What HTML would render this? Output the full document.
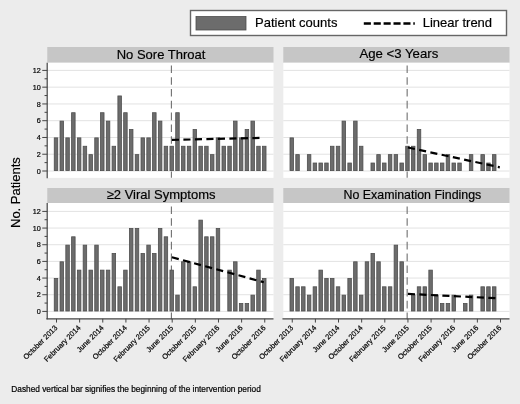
<!DOCTYPE html>
<html><head><meta charset="utf-8"><title>Chart</title>
<style>html,body{margin:0;padding:0;background:#ececec;}svg{display:block}</style></head>
<body>
<svg width="520" height="404" viewBox="0 0 520 404" font-family="'Liberation Sans', sans-serif" fill="#000">
<rect width="520" height="404" fill="#ececec"/>
<rect x="190.5" y="10.5" width="316" height="25" fill="#fff" stroke="#666" stroke-width="1.4"/>
<rect x="196" y="16.5" width="50" height="13.5" fill="#6c6c6c" stroke="#4e4e4e" stroke-width="0.8"/>
<text stroke="#000" stroke-width="0.18" x="255" y="27.3" font-size="13">Patient counts</text>
<line x1="363.8" y1="23.5" x2="414.8" y2="23.5" stroke="#000" stroke-width="2.3" stroke-dasharray="7.1 2.8"/>
<text stroke="#000" stroke-width="0.18" x="422.7" y="27.3" font-size="13">Linear trend</text>
<rect x="47.25" y="47" width="226.25" height="15.75" fill="#c6c6c6"/>
<rect x="47.25" y="62.75" width="226.25" height="115.1" fill="#fff"/>
<text stroke="#000" stroke-width="0.18" x="161.0" y="59.3" font-size="13" text-anchor="middle">No Sore Throat</text>
<line x1="47.25" x2="273.5" y1="171" y2="171" stroke="#e2e2e2" stroke-width="1"/>
<line x1="47.25" x2="273.5" y1="154.23" y2="154.23" stroke="#e2e2e2" stroke-width="1"/>
<line x1="47.25" x2="273.5" y1="137.47" y2="137.47" stroke="#e2e2e2" stroke-width="1"/>
<line x1="47.25" x2="273.5" y1="120.7" y2="120.7" stroke="#e2e2e2" stroke-width="1"/>
<line x1="47.25" x2="273.5" y1="103.94" y2="103.94" stroke="#e2e2e2" stroke-width="1"/>
<line x1="47.25" x2="273.5" y1="87.17" y2="87.17" stroke="#e2e2e2" stroke-width="1"/>
<line x1="47.25" x2="273.5" y1="70.4" y2="70.4" stroke="#e2e2e2" stroke-width="1"/>
<line x1="171.4" x2="171.4" y1="65.4" y2="177.85" stroke="#707070" stroke-width="1.1" stroke-dasharray="7.6 4.2"/>
<rect x="54.25" y="137.87" width="3.5" height="32.73" fill="#6c6c6c" stroke="#4e4e4e" stroke-width="0.8"/>
<rect x="60.03" y="121.1" width="3.5" height="49.5" fill="#6c6c6c" stroke="#4e4e4e" stroke-width="0.8"/>
<rect x="65.82" y="137.87" width="3.5" height="32.73" fill="#6c6c6c" stroke="#4e4e4e" stroke-width="0.8"/>
<rect x="71.61" y="112.72" width="3.5" height="57.88" fill="#6c6c6c" stroke="#4e4e4e" stroke-width="0.8"/>
<rect x="77.39" y="137.87" width="3.5" height="32.73" fill="#6c6c6c" stroke="#4e4e4e" stroke-width="0.8"/>
<rect x="83.17" y="146.25" width="3.5" height="24.35" fill="#6c6c6c" stroke="#4e4e4e" stroke-width="0.8"/>
<rect x="88.96" y="154.63" width="3.5" height="15.97" fill="#6c6c6c" stroke="#4e4e4e" stroke-width="0.8"/>
<rect x="94.75" y="137.87" width="3.5" height="32.73" fill="#6c6c6c" stroke="#4e4e4e" stroke-width="0.8"/>
<rect x="100.53" y="112.72" width="3.5" height="57.88" fill="#6c6c6c" stroke="#4e4e4e" stroke-width="0.8"/>
<rect x="106.31" y="121.1" width="3.5" height="49.5" fill="#6c6c6c" stroke="#4e4e4e" stroke-width="0.8"/>
<rect x="112.1" y="146.25" width="3.5" height="24.35" fill="#6c6c6c" stroke="#4e4e4e" stroke-width="0.8"/>
<rect x="117.89" y="95.95" width="3.5" height="74.65" fill="#6c6c6c" stroke="#4e4e4e" stroke-width="0.8"/>
<rect x="123.67" y="112.72" width="3.5" height="57.88" fill="#6c6c6c" stroke="#4e4e4e" stroke-width="0.8"/>
<rect x="129.45" y="129.49" width="3.5" height="41.11" fill="#6c6c6c" stroke="#4e4e4e" stroke-width="0.8"/>
<rect x="135.24" y="154.63" width="3.5" height="15.97" fill="#6c6c6c" stroke="#4e4e4e" stroke-width="0.8"/>
<rect x="141.02" y="137.87" width="3.5" height="32.73" fill="#6c6c6c" stroke="#4e4e4e" stroke-width="0.8"/>
<rect x="146.81" y="137.87" width="3.5" height="32.73" fill="#6c6c6c" stroke="#4e4e4e" stroke-width="0.8"/>
<rect x="152.59" y="112.72" width="3.5" height="57.88" fill="#6c6c6c" stroke="#4e4e4e" stroke-width="0.8"/>
<rect x="158.38" y="121.1" width="3.5" height="49.5" fill="#6c6c6c" stroke="#4e4e4e" stroke-width="0.8"/>
<rect x="164.16" y="146.25" width="3.5" height="24.35" fill="#6c6c6c" stroke="#4e4e4e" stroke-width="0.8"/>
<rect x="169.95" y="146.25" width="3.5" height="24.35" fill="#6c6c6c" stroke="#4e4e4e" stroke-width="0.8"/>
<rect x="175.73" y="112.72" width="3.5" height="57.88" fill="#6c6c6c" stroke="#4e4e4e" stroke-width="0.8"/>
<rect x="181.52" y="146.25" width="3.5" height="24.35" fill="#6c6c6c" stroke="#4e4e4e" stroke-width="0.8"/>
<rect x="187.31" y="146.25" width="3.5" height="24.35" fill="#6c6c6c" stroke="#4e4e4e" stroke-width="0.8"/>
<rect x="193.09" y="129.49" width="3.5" height="41.11" fill="#6c6c6c" stroke="#4e4e4e" stroke-width="0.8"/>
<rect x="198.88" y="146.25" width="3.5" height="24.35" fill="#6c6c6c" stroke="#4e4e4e" stroke-width="0.8"/>
<rect x="204.66" y="146.25" width="3.5" height="24.35" fill="#6c6c6c" stroke="#4e4e4e" stroke-width="0.8"/>
<rect x="210.44" y="154.63" width="3.5" height="15.97" fill="#6c6c6c" stroke="#4e4e4e" stroke-width="0.8"/>
<rect x="216.23" y="137.87" width="3.5" height="32.73" fill="#6c6c6c" stroke="#4e4e4e" stroke-width="0.8"/>
<rect x="222.01" y="146.25" width="3.5" height="24.35" fill="#6c6c6c" stroke="#4e4e4e" stroke-width="0.8"/>
<rect x="227.8" y="146.25" width="3.5" height="24.35" fill="#6c6c6c" stroke="#4e4e4e" stroke-width="0.8"/>
<rect x="233.58" y="121.1" width="3.5" height="49.5" fill="#6c6c6c" stroke="#4e4e4e" stroke-width="0.8"/>
<rect x="239.37" y="137.87" width="3.5" height="32.73" fill="#6c6c6c" stroke="#4e4e4e" stroke-width="0.8"/>
<rect x="245.15" y="129.49" width="3.5" height="41.11" fill="#6c6c6c" stroke="#4e4e4e" stroke-width="0.8"/>
<rect x="250.94" y="121.1" width="3.5" height="49.5" fill="#6c6c6c" stroke="#4e4e4e" stroke-width="0.8"/>
<rect x="256.72" y="146.25" width="3.5" height="24.35" fill="#6c6c6c" stroke="#4e4e4e" stroke-width="0.8"/>
<rect x="262.51" y="146.25" width="3.5" height="24.35" fill="#6c6c6c" stroke="#4e4e4e" stroke-width="0.8"/>
<line x1="171.9" y1="139.9" x2="260.4" y2="137.9" stroke="#000" stroke-width="2.2" stroke-dasharray="7.1 4.4"/>
<line x1="47.2" x2="47.2" y1="62.75" y2="178.35" stroke="#444" stroke-width="1.2"/>
<line x1="42.25" x2="47.25" y1="171" y2="171" stroke="#444" stroke-width="1"/>
<text stroke="#000" stroke-width="0.2" x="40.65" y="173.6" font-size="7.2" text-anchor="end">0</text>
<line x1="44.55" x2="47.25" y1="162.62" y2="162.62" stroke="#444" stroke-width="1"/>
<line x1="42.25" x2="47.25" y1="154.23" y2="154.23" stroke="#444" stroke-width="1"/>
<text stroke="#000" stroke-width="0.2" x="40.65" y="156.83" font-size="7.2" text-anchor="end">2</text>
<line x1="44.55" x2="47.25" y1="145.85" y2="145.85" stroke="#444" stroke-width="1"/>
<line x1="42.25" x2="47.25" y1="137.47" y2="137.47" stroke="#444" stroke-width="1"/>
<text stroke="#000" stroke-width="0.2" x="40.65" y="140.07" font-size="7.2" text-anchor="end">4</text>
<line x1="44.55" x2="47.25" y1="129.09" y2="129.09" stroke="#444" stroke-width="1"/>
<line x1="42.25" x2="47.25" y1="120.7" y2="120.7" stroke="#444" stroke-width="1"/>
<text stroke="#000" stroke-width="0.2" x="40.65" y="123.3" font-size="7.2" text-anchor="end">6</text>
<line x1="44.55" x2="47.25" y1="112.32" y2="112.32" stroke="#444" stroke-width="1"/>
<line x1="42.25" x2="47.25" y1="103.94" y2="103.94" stroke="#444" stroke-width="1"/>
<text stroke="#000" stroke-width="0.2" x="40.65" y="106.54" font-size="7.2" text-anchor="end">8</text>
<line x1="44.55" x2="47.25" y1="95.55" y2="95.55" stroke="#444" stroke-width="1"/>
<line x1="42.25" x2="47.25" y1="87.17" y2="87.17" stroke="#444" stroke-width="1"/>
<text stroke="#000" stroke-width="0.2" x="40.65" y="89.77" font-size="7.2" text-anchor="end">10</text>
<line x1="44.55" x2="47.25" y1="78.79" y2="78.79" stroke="#444" stroke-width="1"/>
<line x1="42.25" x2="47.25" y1="70.4" y2="70.4" stroke="#444" stroke-width="1"/>
<text stroke="#000" stroke-width="0.2" x="40.65" y="73" font-size="7.2" text-anchor="end">12</text>
<rect x="283.3" y="47" width="226.2" height="15.75" fill="#c6c6c6"/>
<rect x="283.3" y="62.75" width="226.2" height="115.1" fill="#fff"/>
<text stroke="#000" stroke-width="0.18" x="398.85" y="58.0" font-size="13.2" text-anchor="middle">Age &lt;3 Years</text>
<line x1="283.3" x2="509.5" y1="171" y2="171" stroke="#e2e2e2" stroke-width="1"/>
<line x1="283.3" x2="509.5" y1="154.23" y2="154.23" stroke="#e2e2e2" stroke-width="1"/>
<line x1="283.3" x2="509.5" y1="137.47" y2="137.47" stroke="#e2e2e2" stroke-width="1"/>
<line x1="283.3" x2="509.5" y1="120.7" y2="120.7" stroke="#e2e2e2" stroke-width="1"/>
<line x1="283.3" x2="509.5" y1="103.94" y2="103.94" stroke="#e2e2e2" stroke-width="1"/>
<line x1="283.3" x2="509.5" y1="87.17" y2="87.17" stroke="#e2e2e2" stroke-width="1"/>
<line x1="283.3" x2="509.5" y1="70.4" y2="70.4" stroke="#e2e2e2" stroke-width="1"/>
<line x1="407.15" x2="407.15" y1="65.4" y2="177.85" stroke="#707070" stroke-width="1.1" stroke-dasharray="7.6 4.2"/>
<rect x="290" y="137.87" width="3.5" height="32.73" fill="#6c6c6c" stroke="#4e4e4e" stroke-width="0.8"/>
<rect x="295.79" y="154.63" width="3.5" height="15.97" fill="#6c6c6c" stroke="#4e4e4e" stroke-width="0.8"/>
<rect x="307.36" y="154.63" width="3.5" height="15.97" fill="#6c6c6c" stroke="#4e4e4e" stroke-width="0.8"/>
<rect x="313.14" y="163.02" width="3.5" height="7.58" fill="#6c6c6c" stroke="#4e4e4e" stroke-width="0.8"/>
<rect x="318.93" y="163.02" width="3.5" height="7.58" fill="#6c6c6c" stroke="#4e4e4e" stroke-width="0.8"/>
<rect x="324.71" y="163.02" width="3.5" height="7.58" fill="#6c6c6c" stroke="#4e4e4e" stroke-width="0.8"/>
<rect x="330.5" y="146.25" width="3.5" height="24.35" fill="#6c6c6c" stroke="#4e4e4e" stroke-width="0.8"/>
<rect x="336.28" y="146.25" width="3.5" height="24.35" fill="#6c6c6c" stroke="#4e4e4e" stroke-width="0.8"/>
<rect x="342.06" y="121.1" width="3.5" height="49.5" fill="#6c6c6c" stroke="#4e4e4e" stroke-width="0.8"/>
<rect x="347.85" y="163.02" width="3.5" height="7.58" fill="#6c6c6c" stroke="#4e4e4e" stroke-width="0.8"/>
<rect x="353.63" y="121.1" width="3.5" height="49.5" fill="#6c6c6c" stroke="#4e4e4e" stroke-width="0.8"/>
<rect x="359.42" y="146.25" width="3.5" height="24.35" fill="#6c6c6c" stroke="#4e4e4e" stroke-width="0.8"/>
<rect x="370.99" y="163.02" width="3.5" height="7.58" fill="#6c6c6c" stroke="#4e4e4e" stroke-width="0.8"/>
<rect x="376.78" y="154.63" width="3.5" height="15.97" fill="#6c6c6c" stroke="#4e4e4e" stroke-width="0.8"/>
<rect x="382.56" y="163.02" width="3.5" height="7.58" fill="#6c6c6c" stroke="#4e4e4e" stroke-width="0.8"/>
<rect x="388.34" y="154.63" width="3.5" height="15.97" fill="#6c6c6c" stroke="#4e4e4e" stroke-width="0.8"/>
<rect x="394.13" y="154.63" width="3.5" height="15.97" fill="#6c6c6c" stroke="#4e4e4e" stroke-width="0.8"/>
<rect x="399.92" y="163.02" width="3.5" height="7.58" fill="#6c6c6c" stroke="#4e4e4e" stroke-width="0.8"/>
<rect x="405.7" y="146.25" width="3.5" height="24.35" fill="#6c6c6c" stroke="#4e4e4e" stroke-width="0.8"/>
<rect x="411.49" y="146.25" width="3.5" height="24.35" fill="#6c6c6c" stroke="#4e4e4e" stroke-width="0.8"/>
<rect x="417.27" y="129.49" width="3.5" height="41.11" fill="#6c6c6c" stroke="#4e4e4e" stroke-width="0.8"/>
<rect x="423.06" y="154.63" width="3.5" height="15.97" fill="#6c6c6c" stroke="#4e4e4e" stroke-width="0.8"/>
<rect x="428.84" y="163.02" width="3.5" height="7.58" fill="#6c6c6c" stroke="#4e4e4e" stroke-width="0.8"/>
<rect x="434.62" y="163.02" width="3.5" height="7.58" fill="#6c6c6c" stroke="#4e4e4e" stroke-width="0.8"/>
<rect x="440.41" y="163.02" width="3.5" height="7.58" fill="#6c6c6c" stroke="#4e4e4e" stroke-width="0.8"/>
<rect x="446.19" y="154.63" width="3.5" height="15.97" fill="#6c6c6c" stroke="#4e4e4e" stroke-width="0.8"/>
<rect x="451.98" y="163.02" width="3.5" height="7.58" fill="#6c6c6c" stroke="#4e4e4e" stroke-width="0.8"/>
<rect x="457.77" y="163.02" width="3.5" height="7.58" fill="#6c6c6c" stroke="#4e4e4e" stroke-width="0.8"/>
<rect x="469.33" y="154.63" width="3.5" height="15.97" fill="#6c6c6c" stroke="#4e4e4e" stroke-width="0.8"/>
<rect x="480.91" y="154.63" width="3.5" height="15.97" fill="#6c6c6c" stroke="#4e4e4e" stroke-width="0.8"/>
<rect x="486.69" y="163.02" width="3.5" height="7.58" fill="#6c6c6c" stroke="#4e4e4e" stroke-width="0.8"/>
<rect x="492.47" y="154.63" width="3.5" height="15.97" fill="#6c6c6c" stroke="#4e4e4e" stroke-width="0.8"/>
<line x1="407.9" y1="147.5" x2="499.8" y2="167.3" stroke="#000" stroke-width="2.2" stroke-dasharray="7.1 4.4"/>
<rect x="47.25" y="188" width="226.25" height="15.0" fill="#c6c6c6"/>
<rect x="47.25" y="203" width="226.25" height="115.85" fill="#fff"/>
<text stroke="#000" stroke-width="0.18" x="161.1" y="199.0" font-size="13" text-anchor="middle">≥2 Viral Symptoms</text>
<line x1="47.25" x2="273.5" y1="311.4" y2="311.4" stroke="#e2e2e2" stroke-width="1"/>
<line x1="47.25" x2="273.5" y1="294.73" y2="294.73" stroke="#e2e2e2" stroke-width="1"/>
<line x1="47.25" x2="273.5" y1="278.07" y2="278.07" stroke="#e2e2e2" stroke-width="1"/>
<line x1="47.25" x2="273.5" y1="261.4" y2="261.4" stroke="#e2e2e2" stroke-width="1"/>
<line x1="47.25" x2="273.5" y1="244.73" y2="244.73" stroke="#e2e2e2" stroke-width="1"/>
<line x1="47.25" x2="273.5" y1="228.07" y2="228.07" stroke="#e2e2e2" stroke-width="1"/>
<line x1="47.25" x2="273.5" y1="211.4" y2="211.4" stroke="#e2e2e2" stroke-width="1"/>
<line x1="171.4" x2="171.4" y1="206.4" y2="319.35" stroke="#707070" stroke-width="1.1" stroke-dasharray="7.6 4.2"/>
<rect x="54.25" y="278.47" width="3.5" height="32.53" fill="#6c6c6c" stroke="#4e4e4e" stroke-width="0.8"/>
<rect x="60.03" y="261.8" width="3.5" height="49.2" fill="#6c6c6c" stroke="#4e4e4e" stroke-width="0.8"/>
<rect x="65.82" y="245.13" width="3.5" height="65.87" fill="#6c6c6c" stroke="#4e4e4e" stroke-width="0.8"/>
<rect x="71.61" y="236.8" width="3.5" height="74.2" fill="#6c6c6c" stroke="#4e4e4e" stroke-width="0.8"/>
<rect x="77.39" y="270.13" width="3.5" height="40.87" fill="#6c6c6c" stroke="#4e4e4e" stroke-width="0.8"/>
<rect x="83.17" y="245.13" width="3.5" height="65.87" fill="#6c6c6c" stroke="#4e4e4e" stroke-width="0.8"/>
<rect x="88.96" y="270.13" width="3.5" height="40.87" fill="#6c6c6c" stroke="#4e4e4e" stroke-width="0.8"/>
<rect x="94.75" y="245.13" width="3.5" height="65.87" fill="#6c6c6c" stroke="#4e4e4e" stroke-width="0.8"/>
<rect x="100.53" y="270.13" width="3.5" height="40.87" fill="#6c6c6c" stroke="#4e4e4e" stroke-width="0.8"/>
<rect x="106.31" y="270.13" width="3.5" height="40.87" fill="#6c6c6c" stroke="#4e4e4e" stroke-width="0.8"/>
<rect x="112.1" y="253.47" width="3.5" height="57.53" fill="#6c6c6c" stroke="#4e4e4e" stroke-width="0.8"/>
<rect x="117.89" y="286.8" width="3.5" height="24.2" fill="#6c6c6c" stroke="#4e4e4e" stroke-width="0.8"/>
<rect x="123.67" y="270.13" width="3.5" height="40.87" fill="#6c6c6c" stroke="#4e4e4e" stroke-width="0.8"/>
<rect x="129.45" y="228.47" width="3.5" height="82.53" fill="#6c6c6c" stroke="#4e4e4e" stroke-width="0.8"/>
<rect x="135.24" y="228.47" width="3.5" height="82.53" fill="#6c6c6c" stroke="#4e4e4e" stroke-width="0.8"/>
<rect x="141.02" y="253.47" width="3.5" height="57.53" fill="#6c6c6c" stroke="#4e4e4e" stroke-width="0.8"/>
<rect x="146.81" y="245.13" width="3.5" height="65.87" fill="#6c6c6c" stroke="#4e4e4e" stroke-width="0.8"/>
<rect x="152.59" y="253.47" width="3.5" height="57.53" fill="#6c6c6c" stroke="#4e4e4e" stroke-width="0.8"/>
<rect x="158.38" y="228.47" width="3.5" height="82.53" fill="#6c6c6c" stroke="#4e4e4e" stroke-width="0.8"/>
<rect x="164.16" y="236.8" width="3.5" height="74.2" fill="#6c6c6c" stroke="#4e4e4e" stroke-width="0.8"/>
<rect x="169.95" y="270.13" width="3.5" height="40.87" fill="#6c6c6c" stroke="#4e4e4e" stroke-width="0.8"/>
<rect x="175.73" y="295.13" width="3.5" height="15.87" fill="#6c6c6c" stroke="#4e4e4e" stroke-width="0.8"/>
<rect x="181.52" y="261.8" width="3.5" height="49.2" fill="#6c6c6c" stroke="#4e4e4e" stroke-width="0.8"/>
<rect x="187.31" y="261.8" width="3.5" height="49.2" fill="#6c6c6c" stroke="#4e4e4e" stroke-width="0.8"/>
<rect x="193.09" y="286.8" width="3.5" height="24.2" fill="#6c6c6c" stroke="#4e4e4e" stroke-width="0.8"/>
<rect x="198.88" y="220.13" width="3.5" height="90.87" fill="#6c6c6c" stroke="#4e4e4e" stroke-width="0.8"/>
<rect x="204.66" y="236.8" width="3.5" height="74.2" fill="#6c6c6c" stroke="#4e4e4e" stroke-width="0.8"/>
<rect x="210.44" y="236.8" width="3.5" height="74.2" fill="#6c6c6c" stroke="#4e4e4e" stroke-width="0.8"/>
<rect x="216.23" y="228.47" width="3.5" height="82.53" fill="#6c6c6c" stroke="#4e4e4e" stroke-width="0.8"/>
<rect x="227.8" y="270.13" width="3.5" height="40.87" fill="#6c6c6c" stroke="#4e4e4e" stroke-width="0.8"/>
<rect x="233.58" y="261.8" width="3.5" height="49.2" fill="#6c6c6c" stroke="#4e4e4e" stroke-width="0.8"/>
<rect x="239.37" y="303.47" width="3.5" height="7.53" fill="#6c6c6c" stroke="#4e4e4e" stroke-width="0.8"/>
<rect x="245.15" y="303.47" width="3.5" height="7.53" fill="#6c6c6c" stroke="#4e4e4e" stroke-width="0.8"/>
<rect x="250.94" y="295.13" width="3.5" height="15.87" fill="#6c6c6c" stroke="#4e4e4e" stroke-width="0.8"/>
<rect x="256.72" y="270.13" width="3.5" height="40.87" fill="#6c6c6c" stroke="#4e4e4e" stroke-width="0.8"/>
<rect x="262.51" y="278.47" width="3.5" height="32.53" fill="#6c6c6c" stroke="#4e4e4e" stroke-width="0.8"/>
<line x1="171.9" y1="257.2" x2="263.8" y2="282.2" stroke="#000" stroke-width="2.2" stroke-dasharray="7.1 4.4"/>
<line x1="47.2" x2="47.2" y1="203" y2="319.35" stroke="#444" stroke-width="1.2"/>
<line x1="42.25" x2="47.25" y1="311.4" y2="311.4" stroke="#444" stroke-width="1"/>
<text stroke="#000" stroke-width="0.2" x="40.65" y="314" font-size="7.2" text-anchor="end">0</text>
<line x1="44.55" x2="47.25" y1="303.07" y2="303.07" stroke="#444" stroke-width="1"/>
<line x1="42.25" x2="47.25" y1="294.73" y2="294.73" stroke="#444" stroke-width="1"/>
<text stroke="#000" stroke-width="0.2" x="40.65" y="297.33" font-size="7.2" text-anchor="end">2</text>
<line x1="44.55" x2="47.25" y1="286.4" y2="286.4" stroke="#444" stroke-width="1"/>
<line x1="42.25" x2="47.25" y1="278.07" y2="278.07" stroke="#444" stroke-width="1"/>
<text stroke="#000" stroke-width="0.2" x="40.65" y="280.67" font-size="7.2" text-anchor="end">4</text>
<line x1="44.55" x2="47.25" y1="269.73" y2="269.73" stroke="#444" stroke-width="1"/>
<line x1="42.25" x2="47.25" y1="261.4" y2="261.4" stroke="#444" stroke-width="1"/>
<text stroke="#000" stroke-width="0.2" x="40.65" y="264" font-size="7.2" text-anchor="end">6</text>
<line x1="44.55" x2="47.25" y1="253.07" y2="253.07" stroke="#444" stroke-width="1"/>
<line x1="42.25" x2="47.25" y1="244.73" y2="244.73" stroke="#444" stroke-width="1"/>
<text stroke="#000" stroke-width="0.2" x="40.65" y="247.33" font-size="7.2" text-anchor="end">8</text>
<line x1="44.55" x2="47.25" y1="236.4" y2="236.4" stroke="#444" stroke-width="1"/>
<line x1="42.25" x2="47.25" y1="228.07" y2="228.07" stroke="#444" stroke-width="1"/>
<text stroke="#000" stroke-width="0.2" x="40.65" y="230.67" font-size="7.2" text-anchor="end">10</text>
<line x1="44.55" x2="47.25" y1="219.73" y2="219.73" stroke="#444" stroke-width="1"/>
<line x1="42.25" x2="47.25" y1="211.4" y2="211.4" stroke="#444" stroke-width="1"/>
<text stroke="#000" stroke-width="0.2" x="40.65" y="214" font-size="7.2" text-anchor="end">12</text>
<line x1="46.4" x2="273.5" y1="318.85" y2="318.85" stroke="#444" stroke-width="1.2"/>
<line x1="56.5" x2="56.5" y1="318.85" y2="322.55" stroke="#444" stroke-width="1"/>
<text stroke="#000" stroke-width="0.2" transform="translate(56.1,326.45) rotate(-45)" font-size="7.42" text-anchor="end" dy="0.35em">October 2013</text>
<line x1="79.64" x2="79.64" y1="318.85" y2="322.55" stroke="#444" stroke-width="1"/>
<text stroke="#000" stroke-width="0.2" transform="translate(79.24,326.45) rotate(-45)" font-size="7.42" text-anchor="end" dy="0.35em">February 2014</text>
<line x1="102.78" x2="102.78" y1="318.85" y2="322.55" stroke="#444" stroke-width="1"/>
<text stroke="#000" stroke-width="0.2" transform="translate(102.38,326.45) rotate(-45)" font-size="7.42" text-anchor="end" dy="0.35em">June 2014</text>
<line x1="125.92" x2="125.92" y1="318.85" y2="322.55" stroke="#444" stroke-width="1"/>
<text stroke="#000" stroke-width="0.2" transform="translate(125.52,326.45) rotate(-45)" font-size="7.42" text-anchor="end" dy="0.35em">October 2014</text>
<line x1="149.06" x2="149.06" y1="318.85" y2="322.55" stroke="#444" stroke-width="1"/>
<text stroke="#000" stroke-width="0.2" transform="translate(148.66,326.45) rotate(-45)" font-size="7.42" text-anchor="end" dy="0.35em">February 2015</text>
<line x1="172.2" x2="172.2" y1="318.85" y2="322.55" stroke="#444" stroke-width="1"/>
<text stroke="#000" stroke-width="0.2" transform="translate(171.8,326.45) rotate(-45)" font-size="7.42" text-anchor="end" dy="0.35em">June 2015</text>
<line x1="195.34" x2="195.34" y1="318.85" y2="322.55" stroke="#444" stroke-width="1"/>
<text stroke="#000" stroke-width="0.2" transform="translate(194.94,326.45) rotate(-45)" font-size="7.42" text-anchor="end" dy="0.35em">October 2015</text>
<line x1="218.48" x2="218.48" y1="318.85" y2="322.55" stroke="#444" stroke-width="1"/>
<text stroke="#000" stroke-width="0.2" transform="translate(218.08,326.45) rotate(-45)" font-size="7.42" text-anchor="end" dy="0.35em">February 2016</text>
<line x1="241.62" x2="241.62" y1="318.85" y2="322.55" stroke="#444" stroke-width="1"/>
<text stroke="#000" stroke-width="0.2" transform="translate(241.22,326.45) rotate(-45)" font-size="7.42" text-anchor="end" dy="0.35em">June 2016</text>
<line x1="264.76" x2="264.76" y1="318.85" y2="322.55" stroke="#444" stroke-width="1"/>
<text stroke="#000" stroke-width="0.2" transform="translate(264.36,326.45) rotate(-45)" font-size="7.42" text-anchor="end" dy="0.35em">October 2016</text>
<rect x="283.3" y="188" width="226.2" height="15.0" fill="#c6c6c6"/>
<rect x="283.3" y="203" width="226.2" height="115.85" fill="#fff"/>
<text stroke="#000" stroke-width="0.18" x="412.4" y="199.2" font-size="12.4" text-anchor="middle">No Examination Findings</text>
<line x1="283.3" x2="509.5" y1="311.4" y2="311.4" stroke="#e2e2e2" stroke-width="1"/>
<line x1="283.3" x2="509.5" y1="294.73" y2="294.73" stroke="#e2e2e2" stroke-width="1"/>
<line x1="283.3" x2="509.5" y1="278.07" y2="278.07" stroke="#e2e2e2" stroke-width="1"/>
<line x1="283.3" x2="509.5" y1="261.4" y2="261.4" stroke="#e2e2e2" stroke-width="1"/>
<line x1="283.3" x2="509.5" y1="244.73" y2="244.73" stroke="#e2e2e2" stroke-width="1"/>
<line x1="283.3" x2="509.5" y1="228.07" y2="228.07" stroke="#e2e2e2" stroke-width="1"/>
<line x1="283.3" x2="509.5" y1="211.4" y2="211.4" stroke="#e2e2e2" stroke-width="1"/>
<line x1="407.15" x2="407.15" y1="206.4" y2="319.35" stroke="#707070" stroke-width="1.1" stroke-dasharray="7.6 4.2"/>
<rect x="290" y="278.47" width="3.5" height="32.53" fill="#6c6c6c" stroke="#4e4e4e" stroke-width="0.8"/>
<rect x="295.79" y="286.8" width="3.5" height="24.2" fill="#6c6c6c" stroke="#4e4e4e" stroke-width="0.8"/>
<rect x="301.57" y="286.8" width="3.5" height="24.2" fill="#6c6c6c" stroke="#4e4e4e" stroke-width="0.8"/>
<rect x="307.36" y="295.13" width="3.5" height="15.87" fill="#6c6c6c" stroke="#4e4e4e" stroke-width="0.8"/>
<rect x="313.14" y="286.8" width="3.5" height="24.2" fill="#6c6c6c" stroke="#4e4e4e" stroke-width="0.8"/>
<rect x="318.93" y="270.13" width="3.5" height="40.87" fill="#6c6c6c" stroke="#4e4e4e" stroke-width="0.8"/>
<rect x="324.71" y="278.47" width="3.5" height="32.53" fill="#6c6c6c" stroke="#4e4e4e" stroke-width="0.8"/>
<rect x="330.5" y="278.47" width="3.5" height="32.53" fill="#6c6c6c" stroke="#4e4e4e" stroke-width="0.8"/>
<rect x="336.28" y="286.8" width="3.5" height="24.2" fill="#6c6c6c" stroke="#4e4e4e" stroke-width="0.8"/>
<rect x="342.06" y="295.13" width="3.5" height="15.87" fill="#6c6c6c" stroke="#4e4e4e" stroke-width="0.8"/>
<rect x="347.85" y="278.47" width="3.5" height="32.53" fill="#6c6c6c" stroke="#4e4e4e" stroke-width="0.8"/>
<rect x="353.63" y="261.8" width="3.5" height="49.2" fill="#6c6c6c" stroke="#4e4e4e" stroke-width="0.8"/>
<rect x="359.42" y="295.13" width="3.5" height="15.87" fill="#6c6c6c" stroke="#4e4e4e" stroke-width="0.8"/>
<rect x="365.2" y="261.8" width="3.5" height="49.2" fill="#6c6c6c" stroke="#4e4e4e" stroke-width="0.8"/>
<rect x="370.99" y="253.47" width="3.5" height="57.53" fill="#6c6c6c" stroke="#4e4e4e" stroke-width="0.8"/>
<rect x="376.78" y="261.8" width="3.5" height="49.2" fill="#6c6c6c" stroke="#4e4e4e" stroke-width="0.8"/>
<rect x="382.56" y="286.8" width="3.5" height="24.2" fill="#6c6c6c" stroke="#4e4e4e" stroke-width="0.8"/>
<rect x="388.34" y="286.8" width="3.5" height="24.2" fill="#6c6c6c" stroke="#4e4e4e" stroke-width="0.8"/>
<rect x="394.13" y="245.13" width="3.5" height="65.87" fill="#6c6c6c" stroke="#4e4e4e" stroke-width="0.8"/>
<rect x="399.92" y="261.8" width="3.5" height="49.2" fill="#6c6c6c" stroke="#4e4e4e" stroke-width="0.8"/>
<rect x="411.49" y="295.13" width="3.5" height="15.87" fill="#6c6c6c" stroke="#4e4e4e" stroke-width="0.8"/>
<rect x="417.27" y="286.8" width="3.5" height="24.2" fill="#6c6c6c" stroke="#4e4e4e" stroke-width="0.8"/>
<rect x="423.06" y="286.8" width="3.5" height="24.2" fill="#6c6c6c" stroke="#4e4e4e" stroke-width="0.8"/>
<rect x="428.84" y="270.13" width="3.5" height="40.87" fill="#6c6c6c" stroke="#4e4e4e" stroke-width="0.8"/>
<rect x="434.62" y="295.13" width="3.5" height="15.87" fill="#6c6c6c" stroke="#4e4e4e" stroke-width="0.8"/>
<rect x="440.41" y="303.47" width="3.5" height="7.53" fill="#6c6c6c" stroke="#4e4e4e" stroke-width="0.8"/>
<rect x="446.19" y="303.47" width="3.5" height="7.53" fill="#6c6c6c" stroke="#4e4e4e" stroke-width="0.8"/>
<rect x="451.98" y="295.13" width="3.5" height="15.87" fill="#6c6c6c" stroke="#4e4e4e" stroke-width="0.8"/>
<rect x="463.55" y="303.47" width="3.5" height="7.53" fill="#6c6c6c" stroke="#4e4e4e" stroke-width="0.8"/>
<rect x="469.33" y="295.13" width="3.5" height="15.87" fill="#6c6c6c" stroke="#4e4e4e" stroke-width="0.8"/>
<rect x="480.91" y="286.8" width="3.5" height="24.2" fill="#6c6c6c" stroke="#4e4e4e" stroke-width="0.8"/>
<rect x="486.69" y="286.8" width="3.5" height="24.2" fill="#6c6c6c" stroke="#4e4e4e" stroke-width="0.8"/>
<rect x="492.47" y="286.8" width="3.5" height="24.2" fill="#6c6c6c" stroke="#4e4e4e" stroke-width="0.8"/>
<line x1="407.9" y1="293.9" x2="496" y2="298.2" stroke="#000" stroke-width="2.2" stroke-dasharray="7.1 4.4"/>
<line x1="282.45" x2="509.5" y1="318.85" y2="318.85" stroke="#444" stroke-width="1.2"/>
<line x1="292.25" x2="292.25" y1="318.85" y2="322.55" stroke="#444" stroke-width="1"/>
<text stroke="#000" stroke-width="0.2" transform="translate(291.85,326.45) rotate(-45)" font-size="7.42" text-anchor="end" dy="0.35em">October 2013</text>
<line x1="315.39" x2="315.39" y1="318.85" y2="322.55" stroke="#444" stroke-width="1"/>
<text stroke="#000" stroke-width="0.2" transform="translate(314.99,326.45) rotate(-45)" font-size="7.42" text-anchor="end" dy="0.35em">February 2014</text>
<line x1="338.53" x2="338.53" y1="318.85" y2="322.55" stroke="#444" stroke-width="1"/>
<text stroke="#000" stroke-width="0.2" transform="translate(338.13,326.45) rotate(-45)" font-size="7.42" text-anchor="end" dy="0.35em">June 2014</text>
<line x1="361.67" x2="361.67" y1="318.85" y2="322.55" stroke="#444" stroke-width="1"/>
<text stroke="#000" stroke-width="0.2" transform="translate(361.27,326.45) rotate(-45)" font-size="7.42" text-anchor="end" dy="0.35em">October 2014</text>
<line x1="384.81" x2="384.81" y1="318.85" y2="322.55" stroke="#444" stroke-width="1"/>
<text stroke="#000" stroke-width="0.2" transform="translate(384.41,326.45) rotate(-45)" font-size="7.42" text-anchor="end" dy="0.35em">February 2015</text>
<line x1="407.95" x2="407.95" y1="318.85" y2="322.55" stroke="#444" stroke-width="1"/>
<text stroke="#000" stroke-width="0.2" transform="translate(407.55,326.45) rotate(-45)" font-size="7.42" text-anchor="end" dy="0.35em">June 2015</text>
<line x1="431.09" x2="431.09" y1="318.85" y2="322.55" stroke="#444" stroke-width="1"/>
<text stroke="#000" stroke-width="0.2" transform="translate(430.69,326.45) rotate(-45)" font-size="7.42" text-anchor="end" dy="0.35em">October 2015</text>
<line x1="454.23" x2="454.23" y1="318.85" y2="322.55" stroke="#444" stroke-width="1"/>
<text stroke="#000" stroke-width="0.2" transform="translate(453.83,326.45) rotate(-45)" font-size="7.42" text-anchor="end" dy="0.35em">February 2016</text>
<line x1="477.37" x2="477.37" y1="318.85" y2="322.55" stroke="#444" stroke-width="1"/>
<text stroke="#000" stroke-width="0.2" transform="translate(476.97,326.45) rotate(-45)" font-size="7.42" text-anchor="end" dy="0.35em">June 2016</text>
<line x1="500.51" x2="500.51" y1="318.85" y2="322.55" stroke="#444" stroke-width="1"/>
<text stroke="#000" stroke-width="0.2" transform="translate(500.11,326.45) rotate(-45)" font-size="7.42" text-anchor="end" dy="0.35em">October 2016</text>
<text stroke="#000" stroke-width="0.18" transform="translate(19.8,192.6) rotate(-90)" font-size="13" text-anchor="middle">No. Patients</text>
<text stroke="#000" stroke-width="0.2" x="11.3" y="391.5" font-size="8.3">Dashed vertical bar signifies the beginning of the intervention period</text>
</svg>
</body></html>
